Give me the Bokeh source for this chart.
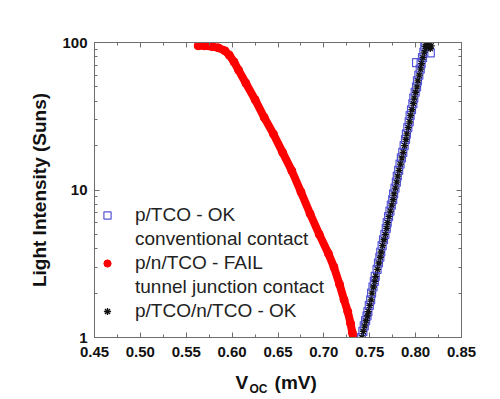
from bokeh.plotting import figure
from bokeh.models import (LinearAxis, LogAxis, FixedTicker, NumeralTickFormatter,
                          CustomJSTickFormatter, Legend, LegendItem, Label, Range1d)
from bokeh.embed import file_html
from bokeh.resources import INLINE

# ---------------- data ----------------
x_ticks = [0.45, 0.50, 0.55, 0.60, 0.65, 0.70, 0.75, 0.80, 0.85]
x_minor = [0.475, 0.525, 0.575, 0.625, 0.675, 0.725, 0.775, 0.825]
y_ticks = [1, 10, 100]
y_minor = [2, 3, 4, 5, 6, 7, 8, 9, 20, 30, 40, 50, 60, 70, 80, 90]

red_v = [0.563, 0.570, 0.578, 0.585, 0.592, 0.597, 0.602, 0.607, 0.615, 0.625,
         0.635, 0.645, 0.655, 0.665, 0.675, 0.685, 0.695, 0.705, 0.711, 0.717,
         0.722, 0.726, 0.729, 0.731, 0.732]
red_i = [95, 95, 94, 92, 88, 82, 74, 65, 53, 41,
         31, 24, 18, 13.5, 9.7, 6.9, 5.0, 3.7, 3.0, 2.3,
         1.8, 1.5, 1.25, 1.08, 1.0]

blue_v = [0.741, 0.7425, 0.744, 0.7455, 0.747, 0.748, 0.7495, 0.751, 0.752, 0.7535,
          0.755, 0.756, 0.758, 0.7595, 0.761, 0.762, 0.7635, 0.765, 0.7665, 0.768,
          0.769, 0.7705, 0.772, 0.7735, 0.775, 0.776, 0.7775, 0.779, 0.780, 0.7815,
          0.783, 0.7845, 0.786, 0.7875, 0.789, 0.790, 0.7915, 0.793, 0.794, 0.7955,
          0.797, 0.798, 0.7995, 0.801, 0.802, 0.8035, 0.805, 0.806, 0.8075, 0.809,
          0.810, 0.811, 0.801, 0.816]
blue_i = [1.0, 1.1, 1.2, 1.3, 1.4, 1.5, 1.65, 1.8, 2.0, 2.2,
          2.4, 2.6, 2.9, 3.2, 3.5, 3.8, 4.2, 4.6, 5.0, 5.5,
          6.0, 6.6, 7.2, 7.9, 8.6, 9.4, 10.3, 11.3, 12.4, 13.6,
          15, 16.5, 18, 20, 22, 24, 26.5, 29, 32, 35,
          38.5, 42, 46, 50, 55, 60, 66, 72, 79, 86,
          94, 100, 73, 85]

black_v = [0.7415, 0.743, 0.7445, 0.746, 0.7475, 0.7485, 0.750, 0.7515, 0.7525, 0.754,
           0.7555, 0.7565, 0.7585, 0.760, 0.7615, 0.7625, 0.764, 0.7655, 0.767, 0.7685,
           0.7695, 0.771, 0.7725, 0.774, 0.7755, 0.7765, 0.778, 0.7795, 0.7805, 0.782,
           0.7835, 0.785, 0.7865, 0.788, 0.7895, 0.7905, 0.792, 0.7935, 0.7945, 0.796,
           0.7975, 0.7985, 0.800, 0.8015, 0.8025, 0.804, 0.8055, 0.8065, 0.808, 0.8095,
           0.8105, 0.8115, 0.812, 0.814, 0.816, 0.817]
black_i = [1.0, 1.1, 1.2, 1.3, 1.4, 1.5, 1.65, 1.8, 2.0, 2.2,
           2.4, 2.6, 2.9, 3.2, 3.5, 3.8, 4.2, 4.6, 5.0, 5.5,
           6.0, 6.6, 7.2, 7.9, 8.6, 9.4, 10.3, 11.3, 12.4, 13.6,
           15, 16.5, 18, 20, 22, 24, 26.5, 29, 32, 35,
           38.5, 42, 46, 50, 55, 60, 66, 72, 79, 86,
           94, 100, 93, 96, 91, 95]

labels = ["p/TCO - OK", "conventional contact", "p/n/TCO - FAIL",
          "tunnel junction contact", "p/TCO/n/TCO - OK"]
x_title_main = "V\u00a0\u00a0\u00a0\u00a0\u00a0(mV)"
x_title_sub = "OC"

FONT = "Liberation Sans"
AX = "#6e6e6e"

p = figure(x_range=Range1d(0.45, 0.85), y_range=Range1d(1, 100), y_axis_type="log",
           frame_width=367, frame_height=295,
           min_border_left=94, min_border_top=42, min_border_right=31, min_border_bottom=56,
           output_backend="svg", toolbar_location=None)
p.xgrid.grid_line_color = None
p.ygrid.grid_line_color = None
p.outline_line_color = AX
p.background_fill_color = "white"
p.border_fill_color = "white"

xt = FixedTicker(ticks=x_ticks, minor_ticks=x_minor)
yt = FixedTicker(ticks=y_ticks, minor_ticks=y_minor)


def style(ax, show):
    ax.axis_line_color = AX
    ax.major_tick_line_color = AX
    ax.minor_tick_line_color = AX
    ax.major_tick_in = 5
    ax.major_tick_out = 0
    ax.minor_tick_in = 3
    ax.minor_tick_out = 0
    if show:
        ax.major_label_text_font = FONT
        ax.major_label_text_font_style = "bold"
        ax.major_label_text_font_size = "15px"
        ax.major_label_text_color = "#111111"
        ax.major_label_standoff = 6
    else:
        ax.formatter = CustomJSTickFormatter(code="return ''")
        ax.major_label_standoff = 0


xa = p.xaxis[0]
xa.ticker = xt
xa.formatter = NumeralTickFormatter(format="0.00")
style(xa, True)
xa.major_label_standoff = 9

ya = p.yaxis[0]
ya.ticker = yt
ya.formatter = NumeralTickFormatter(format="0")
style(ya, True)
ya.major_label_standoff = 7
ya.axis_label = "Light Intensity (Suns)"
ya.axis_label_text_font = FONT
ya.axis_label_text_font_style = "bold"
ya.axis_label_text_font_size = "19px"
ya.axis_label_text_color = "#111111"
ya.axis_label_standoff = 9

top = LinearAxis(ticker=xt)
style(top, False)
p.add_layout(top, "above")
right = LogAxis(ticker=yt)
style(right, False)
p.add_layout(right, "right")

# x axis title with subscript (panels below the x axis)
for txt, xx, yy, fs in [(x_title_main, 141, -2, "19px"), (x_title_sub, 155, 6, "12px")]:
    p.add_layout(Label(x=xx, y=yy, x_units="screen", y_units="screen", text=txt,
                       text_font=FONT, text_font_style="bold", text_font_size=fs,
                       text_color="#111111", text_baseline="alphabetic", text_align="left"),
                 "below")

# data
red_line = p.line(red_v, red_i, line_width=8, line_color="#ff0000",
                  line_cap="round", line_join="round")
red = p.scatter(red_v, red_i, marker="circle", size=8, fill_color="#ff0000", line_color="#ff0000")
blue = p.scatter(blue_v, blue_i, marker="square", size=8, fill_color=None,
                 line_color="#5555d8", line_width=1.2)
black = p.scatter(black_v, black_i, marker="asterisk", size=7, line_color="#111111", line_width=1.3)
dummy = p.scatter(red_v[:1], red_i[:1], marker="circle", size=4, fill_alpha=0, line_alpha=0)

legend = Legend(items=[LegendItem(label=labels[0], renderers=[blue]),
                       LegendItem(label=labels[1], renderers=[dummy]),
                       LegendItem(label=labels[2], renderers=[red]),
                       LegendItem(label=labels[3], renderers=[dummy]),
                       LegendItem(label=labels[4], renderers=[black])],
                location=(4, 14), orientation="vertical",
                border_line_color=None, background_fill_alpha=0,
                padding=0, margin=0, spacing=0,
                label_text_font=FONT, label_text_font_size="19px", label_text_color="#222222",
                label_height=24, glyph_height=24, glyph_width=18, label_standoff=19)
p.add_layout(legend)

open("out.html", "w").write(file_html(p, INLINE))
